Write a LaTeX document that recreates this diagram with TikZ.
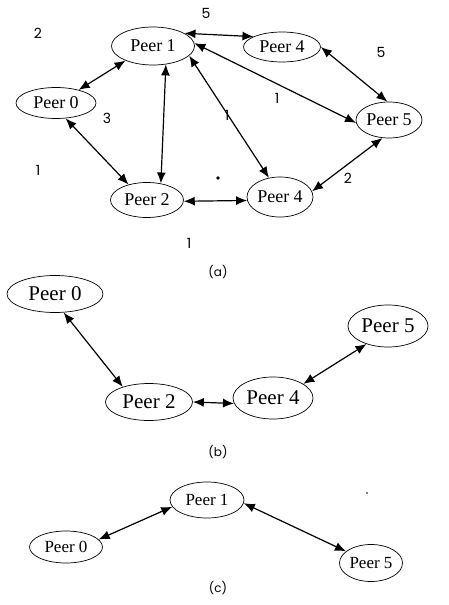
\documentclass[tikz,border=0pt]{standalone}
\usepackage{fontspec}
\setmainfont{Liberation Serif}
\newfontfamily\labfont{Poppins}
\usetikzlibrary{shapes.geometric,arrows.meta}
\tikzset{
  peer/.style={ellipse,draw,line width=0.7pt,inner sep=0pt},
  pa/.style={peer,font=\fontsize{18}{20}\selectfont},
  pb/.style={peer,font=\fontsize{21}{23}\selectfont},
  pc/.style={peer,font=\fontsize{17}{19}\selectfont},
  link/.style={line width=1.2pt,{Latex[length=11pt,width=9pt]}-{Latex[length=11pt,width=9pt]}},
  num/.style={font=\labfont\fontsize{14}{16}\selectfont},
  subcap/.style={font=\labfont\fontsize{12}{14}\selectfont},
}
\begin{document}
\begin{tikzpicture}[x=1pt,y=-1pt]
\useasboundingbox (0,0) rectangle (449,605);
% (a)
\node[pa,minimum width=83pt,minimum height=38pt] (p1a) at (153,46) {Peer 1};
\node[pa,minimum width=77pt,minimum height=30pt] (p4ta) at (282,47) {Peer 4};
\node[pa,minimum width=80pt,minimum height=31pt] (p0a) at (56,103) {Peer 0};
\node[pa,minimum width=66pt,minimum height=36pt] (p5a) at (389,120) {Peer 5};
\node[pa,minimum width=73pt,minimum height=35pt] (p2a) at (147,200) {Peer 2};
\node[pa,minimum width=66pt,minimum height=40pt] (p4ba) at (280,197) {Peer 4};
\draw[link] (p1a.22) -- (p4ta.160);
\draw[link] (p0a.30) -- (p1a.208);
\draw[link] (p1a.-55) -- (p2a.50);
\draw[link] (p1a.-15) -- (p4ba.120);
\draw[link] (p1a.4) -- (p5a.185);
\draw[link] (p4ta.east) -- (p5a.95);
\draw[link] (p0a.-58) -- (p2a.140);
\draw[link] (p2a.-2) -- (p4ba.186);
\draw[link] (p4ba.10) -- (p5a.250);
\node[num] (n1) at (206,13) {5};
\node[num] (n2) at (38,33) {2};
\node[num] (n3) at (381,52) {5};
\node[num] (n4) at (277,98) {1};
\node[num] (n5) at (107,118) {3};
\node[num] (n6) at (227,115) {1};
\node[num] (n7) at (38,170) {1};
\node[num] (n8) at (348,178) {2};
\node[num] (n9) at (189,243) {1};
\fill (218,178) circle (1.8);
\node[subcap] (ca) at (218,272) {(a)};
% (b)
\node[pb,minimum width=96pt,minimum height=37pt] (p0b) at (55,294) {Peer 0};
\node[pb,minimum width=80pt,minimum height=42pt] (p5b) at (388,326) {Peer 5};
\node[pb,minimum width=87pt,minimum height=37pt] (p2b) at (149,402) {Peer 2};
\node[pb,minimum width=80pt,minimum height=42pt] (p4b) at (273,398) {Peer 4};
\draw[link] (p0b.-65) -- (p2b.150);
\draw[link] (p2b.east) -- (p4b.188);
\draw[link] (p4b.25) -- (p5b.220);
\node[subcap] (cb) at (218,452) {(b)};
% (c)
\node[pc,minimum width=74pt,minimum height=36pt] (p1c) at (207,500) {Peer 1};
\node[pc,minimum width=73pt,minimum height=32pt] (p0c) at (66,547) {Peer 0};
\node[pc,minimum width=63pt,minimum height=37pt] (p5c) at (371,563) {Peer 5};
\draw[link] (p0c.13) -- (p1c.191);
\draw[link] (p1c.-5) -- (p5c.155);
\fill (367,493) circle (0.8);
\node[subcap] (cc) at (218,588) {(c)};
\end{tikzpicture}
\end{document}
